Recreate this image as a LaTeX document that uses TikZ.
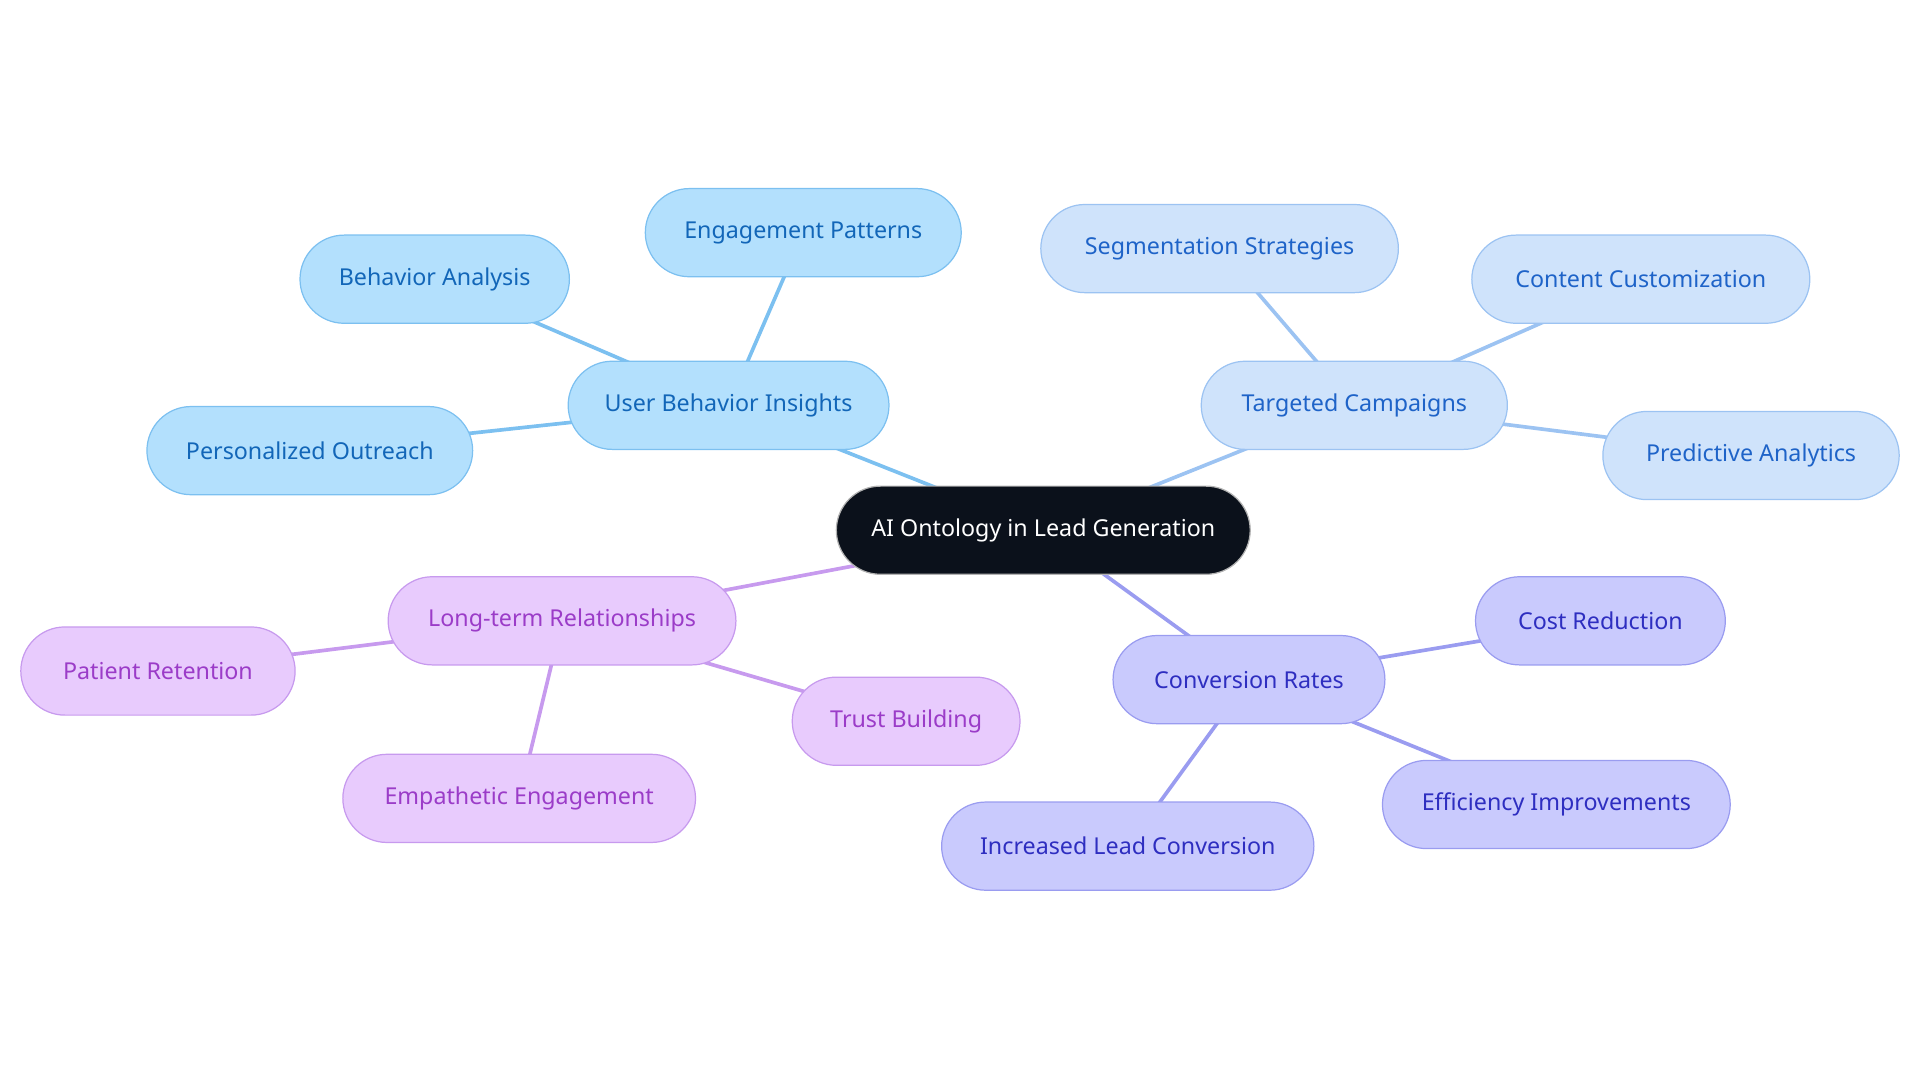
\documentclass[tikz,border=0pt]{standalone}
\usepackage{fontspec}
\setmainfont{Noto Sans}
\usetikzlibrary{backgrounds}
\definecolor{bF}{HTML}{B3E0FD}\definecolor{bS}{HTML}{7CC0F0}\definecolor{bT}{HTML}{1266B8}
\definecolor{lF}{HTML}{CFE3FB}\definecolor{lS}{HTML}{9CC3F2}\definecolor{lT}{HTML}{1E63C8}
\definecolor{pF}{HTML}{E8CBFD}\definecolor{pS}{HTML}{C79AEE}\definecolor{pT}{HTML}{9B3CC8}
\definecolor{iF}{HTML}{C9CAFD}\definecolor{iS}{HTML}{9A9CF0}\definecolor{iT}{HTML}{2E2EC0}
\definecolor{root}{HTML}{0B111B}
\tikzset{
 box/.style={rounded corners=36pt, minimum height=72pt, inner sep=0pt, font=\fontsize{19}{22}\selectfont, line width=1pt},
 B/.style={box, fill=bF, draw=bS, text=bT, minimum width=#1},
 L/.style={box, fill=lF, draw=lS, text=lT, minimum width=#1},
 P/.style={box, fill=pF, draw=pS, text=pT, minimum width=#1},
 I/.style={box, fill=iF, draw=iS, text=iT, minimum width=#1},
 e/.style={line width=3pt}
}
\begin{document}
\begin{tikzpicture}[x=1pt,y=-1pt]
\useasboundingbox (0,0) rectangle (1568,884);
\node[box, fill=root, draw=gray!60, text=white, minimum width=338pt] (r) at (852,433) {AI Ontology in Lead Generation};
\node[B=262pt] (ubi) at (595,331) {User Behavior Insights};
\node[B=220pt] (ba) at (355,228) {Behavior Analysis};
\node[B=258pt] (ep) at (656,190) {Engagement Patterns};
\node[B=266pt] (po) at (253,368) {Personalized Outreach};
\node[L=250pt] (tc) at (1106,331) {Targeted Campaigns};
\node[L=292pt] (ss) at (996,203) {Segmentation Strategies};
\node[L=276pt] (cc) at (1340,228) {Content Customization};
\node[L=242pt] (pa) at (1430,372) {Predictive Analytics};
\node[P=284pt] (lr) at (459,507) {Long-term Relationships};
\node[P=224pt] (pr) at (129,548) {Patient Retention};
\node[P=288pt] (ee) at (424,652) {Empathetic Engagement};
\node[P=186pt] (tb) at (740,589) {Trust Building};
\node[I=222pt] (cr) at (1020,555) {Conversion Rates};
\node[I=204pt] (cor) at (1307,507) {Cost Reduction};
\node[I=284pt] (ei) at (1271,657) {Efficiency Improvements};
\node[I=304pt] (ilc) at (921,691) {Increased Lead Conversion};
\begin{scope}[on background layer]
\draw[e,bS] (r.center)--(ubi.center) (ubi.center)--(ba.center) (ubi.center)--(ep.center) (ubi.center)--(po.center);
\draw[e,lS] (r.center)--(tc.center) (tc.center)--(ss.center) (tc.center)--(cc.center) (tc.center)--(pa.center);
\draw[e,pS] (r.center)--(lr.center) (lr.center)--(pr.center) (lr.center)--(ee.center) (lr.center)--(tb.center);
\draw[e,iS] (r.center)--(cr.center) (cr.center)--(cor.center) (cr.center)--(ei.center) (cr.center)--(ilc.center);
\end{scope}
\end{tikzpicture}
\end{document}
